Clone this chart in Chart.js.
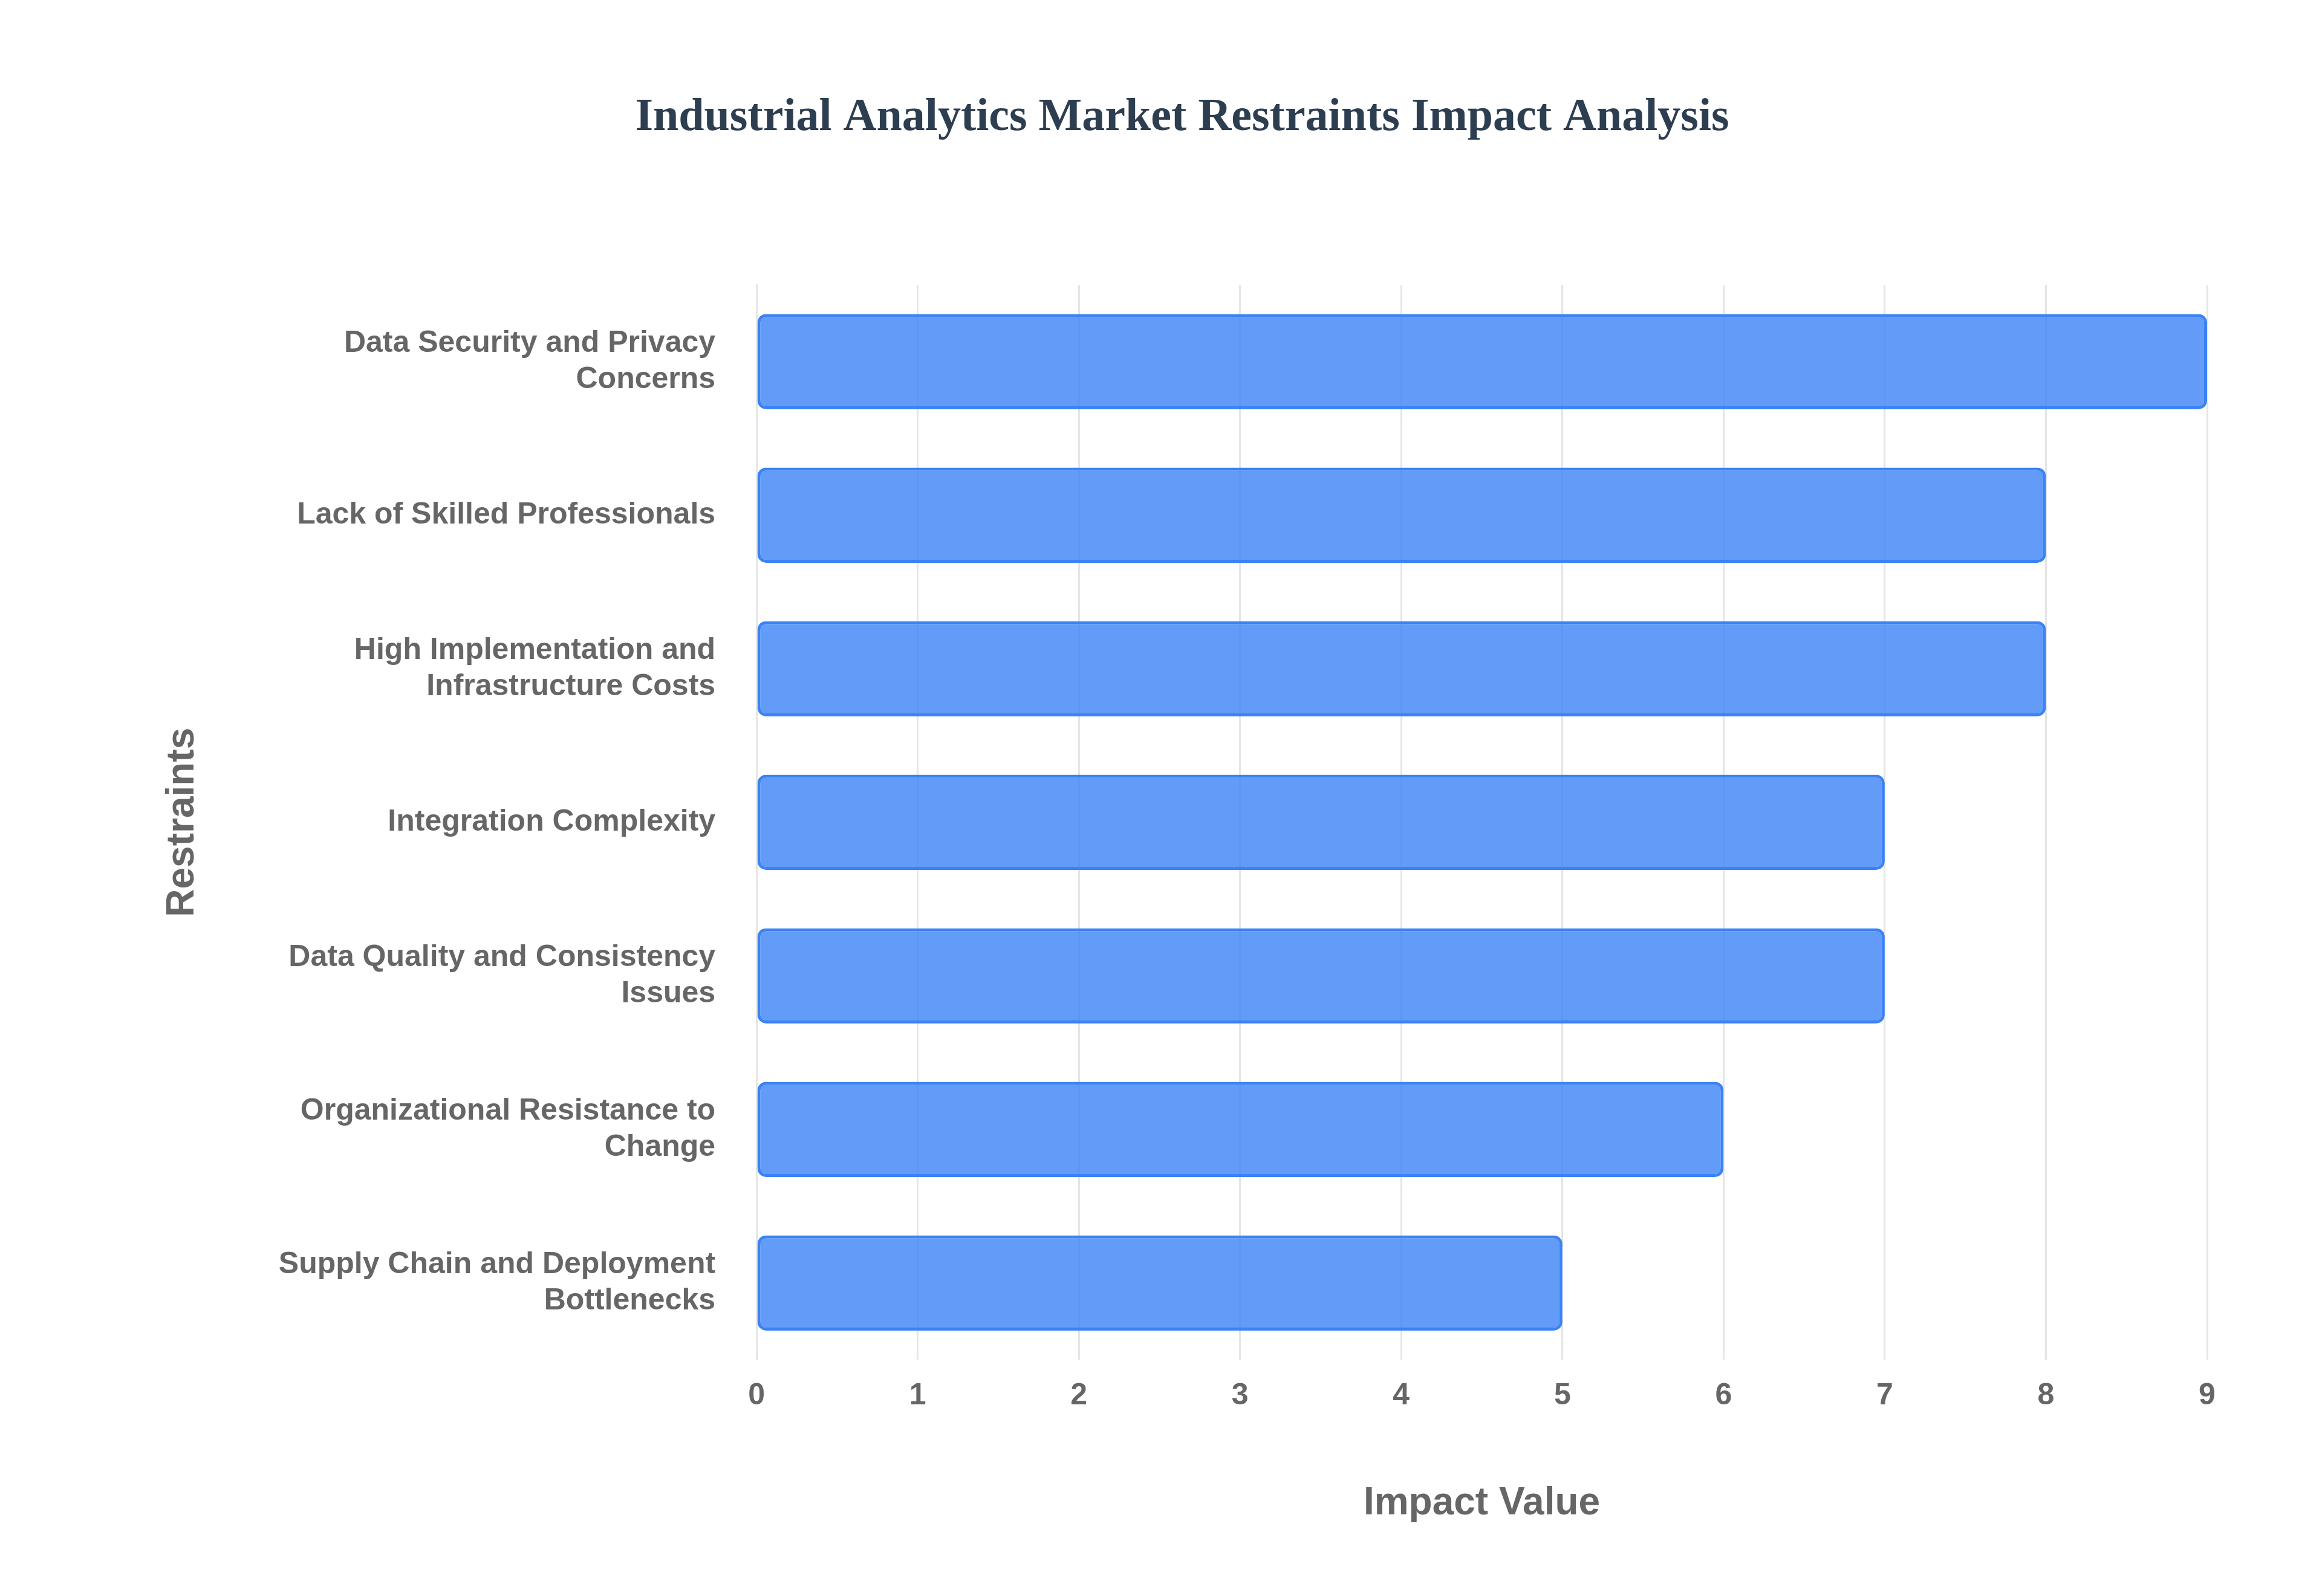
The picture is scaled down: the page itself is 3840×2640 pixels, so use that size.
<!DOCTYPE html>
<html>
<head>
<meta charset="utf-8">
<script src="https://cdn.jsdelivr.net/npm/chart.js@4"></script>
<style>
  html, body { margin: 0; padding: 0; background: #fff; }
  #wrap { width: 3840px; height: 2640px; }
</style>
</head>
<body>
<div id="wrap"><canvas id="restraintsChart"></canvas></div>
<script>
var restraintLabels = [
  ["Data Security and Privacy", "Concerns"],
  "Lack of Skilled Professionals",
  ["High Implementation and", "Infrastructure Costs"],
  "Integration Complexity",
  ["Data Quality and Consistency", "Issues"],
  ["Organizational Resistance to", "Change"],
  ["Supply Chain and Deployment", "Bottlenecks"]
];
var impactValues = [9, 8, 8, 7, 7, 6, 5];

var ctx = document.getElementById("restraintsChart");

var restraintsChart = new Chart(ctx, {
  type: "bar",
  data: {
    labels: restraintLabels,
    datasets: [
      {
        label: "Impact Value",
        data: impactValues,
        backgroundColor: "rgba(59, 130, 246, 0.8)",
        borderColor: "#3b82f6",
        borderWidth: 5,
        borderRadius: 14,
        borderSkipped: false,
        barPercentage: 0.62,
        categoryPercentage: 1.0,
      },
    ],
  },
  options: {
    indexAxis: "y",
    responsive: true,
    maintainAspectRatio: false,
    devicePixelRatio: 1,
    animation: false,
    layout: { padding: { left: 260, right: 190, top: 150, bottom: 110 } },
    plugins: {
      legend: { display: false },
      tooltip: { enabled: false },
      title: {
        display: true,
        text: "Industrial Analytics Market Restraints Impact Analysis",
        color: "#2c3e50",
        font: { family: "Liberation Serif", size: 76, weight: "bold" },
        padding: { top: 0, bottom: 230 },
      },
    },
    scales: {
      x: {
        min: 0,
        max: 9,
        ticks: {
          stepSize: 1,
          color: "#666",
          padding: 30,
          font: { family: "Liberation Sans", size: 50, weight: "bold" },
        },
        grid: { color: "#e5e5e5", lineWidth: 3, drawTicks: false },
        border: { display: false },
        title: {
          display: true,
          text: "Impact Value",
          color: "#666",
          padding: { top: 80 },
          font: { family: "Liberation Sans", size: 64, weight: "bold" },
        },
      },
      y: {
        ticks: {
          color: "#666",
          padding: 60,
          font: { family: "Liberation Sans", size: 50, weight: "bold" },
        },
        grid: { display: false },
        border: { color: "#e5e5e5", width: 3 },
        title: {
          display: true,
          text: "Restraints",
          color: "#666",
          padding: { bottom: 60 },
          font: { family: "Liberation Sans", size: 64, weight: "bold" },
        },
      },
    },
  },
});
</script>
</body>
</html>
